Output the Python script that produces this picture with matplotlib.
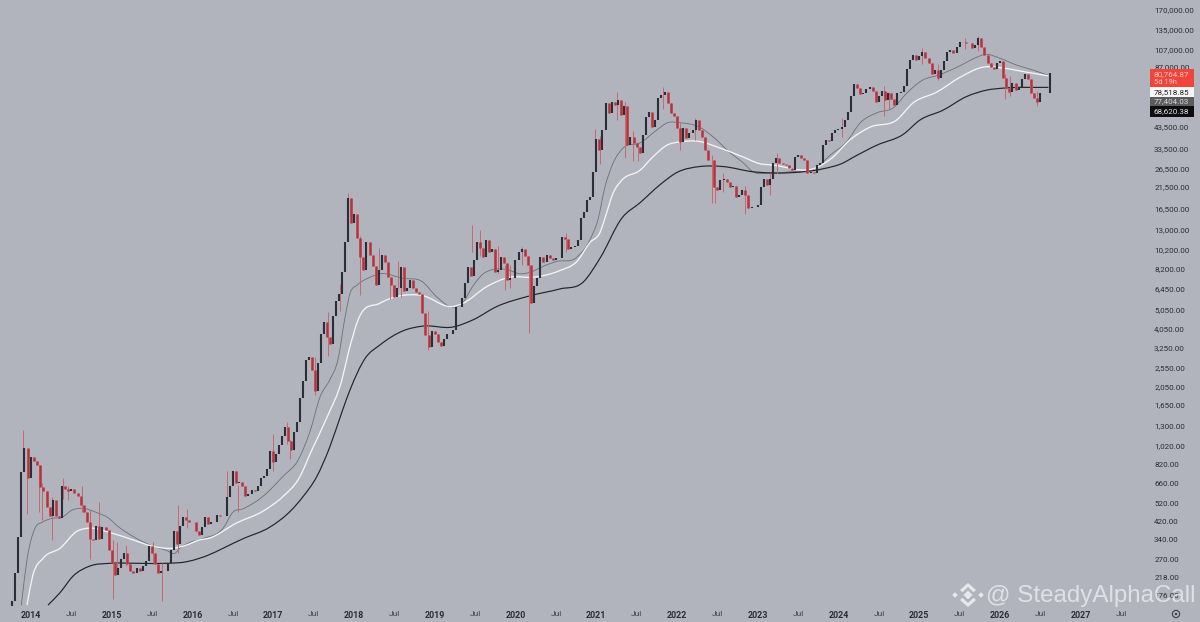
import matplotlib
matplotlib.use("Agg")
import matplotlib.pyplot as plt
import numpy as np
from matplotlib.patches import Polygon, Rectangle, Circle, PathPatch
from matplotlib.path import Path
from matplotlib.transforms import IdentityTransform

# ---------- data: bi-weekly closes ----------
closes_2013 = [165, 230, 350, 750, 1000, 700]
closes_2014 = [900, 860, 820, 630, 600, 500, 450, 540, 450, 440, 640, 620, 600, 620, 590, 570, 510, 470, 420, 345, 340, 400, 345, 395, 380, 300]
closes_2015 = [258, 225, 245, 270, 290, 255, 235, 230, 245, 235, 250, 265, 315, 290, 255, 230, 235, 235, 260, 300, 375, 325, 400, 445, 430, 420]
closes_2016 = [420, 375, 360, 395, 445, 410, 420, 420, 455, 450, 450, 560, 640, 760, 660, 670, 640, 570, 585, 610, 600, 640, 700, 720, 780, 960]
closes_2017 = [850, 930, 1030, 1150, 1280, 1080, 970, 1210, 1360, 1800, 2200, 2800, 2900, 2500, 1950, 2700, 3800, 4400, 3650, 3400, 4700, 5600, 6100, 7900, 11200, 18800, 14000]
closes_2018 = [15600, 11700, 9350, 8050, 11200, 9600, 8400, 6750, 8050, 9600, 8850, 7400, 6750, 5850, 6550, 8300, 6300, 6550, 7150, 6550, 6200, 6050, 4840, 3750, 3270, 3950]
closes_2019 = [3780, 3470, 3290, 3600, 3780, 3800, 3990, 5200, 5200, 5800, 6950, 8300, 7500, 9060, 11200, 10400, 9350, 11450, 10000, 10250, 7900, 8050, 9350, 8750, 7160, 7300, 7300]
closes_2020 = [9060, 10000, 10250, 9500, 8500, 5450, 6650, 7300, 9350, 8850, 9600, 9300, 9060, 9250, 9300, 11800, 11650, 10250, 10600, 10700, 11450, 14900, 15900, 18300, 19000, 25400]
closes_2021 = [37600, 33000, 41600, 57000, 50900, 57700, 55500, 59100, 49600, 55000, 34900, 38300, 35700, 34000, 31800, 39300, 48300, 51300, 43000, 46800, 60500, 62600, 65000, 57000, 50900, 49000]
closes_2022 = [42600, 36200, 42600, 37900, 40000, 41600, 46800, 41600, 38300, 32900, 29300, 29300, 21200, 20700, 23150, 23500, 22500, 21200, 21500, 19000, 19500, 20500, 19500, 16700, 16900, 16900]
closes_2023 = [17300, 21200, 23500, 21800, 23500, 28300, 30000, 28300, 28000, 27600, 26500, 25900, 30300, 31000, 30000, 29300, 25100, 25300, 25100, 27600, 28300, 34900, 37000, 36500, 40300, 41500]
closes_2024 = [42000, 43000, 47000, 51300, 62000, 71000, 68000, 63500, 64000, 67000, 69000, 66000, 58000, 62000, 66000, 59000, 64400, 60000, 56000, 64000, 65200, 70000, 85000, 94600, 100000, 94600]
closes_2025 = [99000, 103800, 96500, 91000, 80000, 84000, 77000, 84000, 94000, 103800, 106000, 102700, 110000, 116800, 116800, 116000, 115000, 109000, 113000, 122000, 110000, 100000, 91000, 87000, 85000, 91000]
closes_2026 = [93000, 77000, 68000, 65000, 72500, 66500, 68000, 76000, 80500, 76000, 64400, 60500, 57700, 64400, 64400, 64000, 80764.87]

# notable wicks
wick_years = [2013.90, 2013.95, 2014.10, 2014.14, 2014.26, 2014.40, 2014.46, 2014.63, 2014.73, 2014.84, 2015.02, 2015.07, 2015.18, 2015.51, 2015.62, 2015.82, 2015.93,
              2016.43, 2016.56, 2017.00, 2017.17, 2017.21, 2017.52, 2017.68, 2017.83, 2017.93, 2018.07, 2018.31, 2018.45, 2018.55, 2018.58, 2018.92,
              2019.46, 2019.56, 2019.78, 2019.87, 2019.93, 2020.08, 2020.17, 2020.62, 2020.98, 2021.05, 2021.26, 2021.36, 2021.46, 2021.52, 2021.83,
              2022.04, 2022.22, 2022.43, 2022.47, 2022.57, 2022.84, 2023.15, 2023.24, 2024.04, 2024.56, 2024.63, 2025.04, 2025.23, 2025.57, 2025.73, 2026.06, 2026.12, 2026.46]
wick_highs = [1230, 850, 820, 660, 560, 700, 640, 640, 480, 530, 340, 330, 320, 330, 260, 510, 490,
              760, 650, 1170, 1350, 1100, 2900, 4900, 6800, 19900, 12000, 10400, 7200, 8900, 7000, 5000,
              13700, 12900, 10700, 8500, 8500, 10500, 9500, 12400, 42000, 39000, 64800, 58000, 41000, 36000, 69000,
              45000, 48000, 31000, 24000, 25000, 21500, 25200, 31800, 48000, 70000, 65000, 109000, 90000, 123000, 126000, 80000, 78000, 66000]
wick_lows = [800, 460, 470, 430, 340, 550, 540, 470, 270, 380, 170, 230, 250, 260, 165, 290, 390,
             550, 470, 760, 1050, 880, 1850, 2950, 5000, 14000, 6000, 8000, 5750, 6500, 5900, 3150,
             10000, 9500, 7800, 6400, 6500, 8500, 3850, 10000, 30000, 28000, 47000, 30000, 29000, 29000, 53000,
             33000, 37000, 17600, 17600, 20000, 15500, 19500, 25000, 38500, 49000, 53000, 90000, 74500, 108000, 105000, 60000, 62000, 55000]

# moving averages
black_years = [2014.21, 2014.36, 2014.52, 2014.73, 2014.98, 2015.35, 2015.68, 2015.93, 2016.09, 2016.63, 2016.96, 2017.21, 2017.37, 2017.54, 2017.70, 2017.85, 2017.95, 2018.14, 2018.32, 2018.61, 2018.85, 2019.23, 2019.47, 2019.77, 2020.18, 2020.55, 2020.84, 2021.05, 2021.32, 2021.54, 2021.79, 2022.00, 2022.28, 2022.57, 2022.94, 2023.40, 2023.81, 2024.06, 2024.17, 2024.48, 2024.80, 2025.01, 2025.29, 2025.59, 2025.84, 2026.04, 2026.60]
black_vals = [158, 183, 222, 250, 258, 258, 258, 263, 274, 345, 395, 475, 565, 715, 1010, 1520, 1970, 2865, 3340, 3950, 4170, 4130, 4480, 5250, 5950, 6450, 7000, 9300, 14850, 17700, 21900, 25300, 27100, 27100, 25500, 25200, 26400, 28300, 30000, 34900, 39500, 46800, 52400, 61700, 66500, 68000, 68620.38]
white_years = [2013.95, 2014.02, 2014.15, 2014.36, 2014.57, 2014.73, 2014.98, 2015.26, 2015.51, 2015.76, 2015.93, 2016.09, 2016.19, 2016.55, 2016.87, 2017.12, 2017.31, 2017.49, 2017.67, 2017.85, 2017.93, 2018.05, 2018.32, 2018.82, 2019.23, 2019.35, 2019.65, 2019.93, 2020.22, 2020.55, 2020.76, 2020.92, 2021.05, 2021.11, 2021.21, 2021.32, 2021.54, 2021.70, 2021.88, 2022.04, 2022.25, 2022.54, 2022.82, 2023.03, 2023.18, 2023.73, 2023.92, 2024.14, 2024.39, 2024.72, 2024.92, 2025.22, 2025.50, 2025.79, 2026.04, 2026.33, 2026.60]
white_vals = [158, 222, 274, 308, 376, 390, 370, 340, 315, 308, 320, 340, 345, 415, 475, 565, 690, 1000, 1445, 2220, 3050, 4480, 5450, 6000, 5250, 5450, 6650, 7400, 7400, 8000, 8900, 11100, 12600, 14900, 19900, 23150, 25900, 30300, 34900, 36200, 36500, 33600, 30300, 28000, 27600, 26800, 30000, 37000, 43000, 46800, 57000, 65000, 77000, 87000, 86000, 82000, 78518.85]
gray_years = [2013.88, 2013.95, 2014.05, 2014.14, 2014.27, 2014.38, 2014.51, 2014.63, 2014.83, 2014.95, 2015.07, 2015.31, 2015.47, 2015.68, 2015.78, 2015.85, 2015.97, 2016.13, 2016.38, 2016.50, 2016.63, 2016.87, 2017.12, 2017.31, 2017.46, 2017.58, 2017.70, 2017.80, 2017.89, 2017.95, 2018.04, 2018.20, 2018.32, 2018.61, 2018.84, 2019.03, 2019.23, 2019.34, 2019.47, 2019.60, 2019.72, 2019.89, 2020.06, 2020.22, 2020.34, 2020.51, 2020.76, 2020.92, 2021.02, 2021.11, 2021.21, 2021.33, 2021.54, 2021.75, 2021.88, 2022.04, 2022.28, 2022.45, 2022.66, 2022.82, 2022.94, 2023.15, 2023.40, 2023.73, 2023.89, 2024.10, 2024.27, 2024.48, 2024.68, 2024.85, 2025.05, 2025.23, 2025.47, 2025.72, 2025.81, 2026.00, 2026.21, 2026.37, 2026.60]
gray_vals = [158, 269, 390, 418, 438, 442, 482, 492, 465, 442, 400, 345, 320, 300, 290, 310, 330, 345, 390, 470, 490, 565, 715, 870, 1230, 1820, 2220, 2800, 4650, 6100, 6750, 7400, 7700, 7300, 7050, 5850, 5200, 5450, 6650, 7700, 8100, 8100, 7700, 7950, 8400, 8900, 9350, 11450, 14500, 21500, 28300, 33600, 35700, 41600, 45300, 45300, 43000, 38300, 31800, 28300, 25500, 25100, 25500, 26800, 30800, 36200, 45300, 51000, 54000, 64400, 75000, 79000, 87000, 98000, 101000, 96500, 89000, 85000, 79000]

price_ticks = [170000, 135000, 107000, 87000, 43500, 33500, 26500, 21500, 16500, 13000, 10200, 8200, 6450, 5050, 4050, 3250, 2550, 2050, 1650, 1300, 1020, 820, 660, 520, 420, 340, 270, 218, 176]
year_ticks = list(range(2014, 2028))
half_ticks = [y + 0.5 for y in year_ticks]

tag_texts = ["78,518.85", "77,404.03", "68,620.38"]

# ---------- style ----------
BG = "#b2b4bd"
UP = "#2a2e39"
DOWN = "#c5474f"
CORE = "#8a3039"
plt.rcParams["font.family"] = ["Roboto", "DejaVu Sans"]

W, H = 1200, 622
fig = plt.figure(figsize=(W / 100, H / 100), dpi=100, facecolor=BG)
ax = fig.add_axes([0, 16 / H, 1148 / W, 606 / H], facecolor=BG)
ax.set_yscale("log")
ax.set_xlim(2013.616, 2027.833)
ax.set_ylim(156.4, 191200)
for s in ax.spines.values():
    s.set_visible(False)

# ---------- candles ----------
by_year = {2013: closes_2013, 2014: closes_2014, 2015: closes_2015, 2016: closes_2016, 2017: closes_2017,
           2018: closes_2018, 2019: closes_2019, 2020: closes_2020, 2021: closes_2021, 2022: closes_2022,
           2023: closes_2023, 2024: closes_2024, 2025: closes_2025, 2026: closes_2026}
xs, cl = [], []
for y, vals in by_year.items():
    n = 26 if y in (2013, 2026) else len(vals)
    base = y + (0.765 if y == 2013 else 0)
    xs += [base + i / n for i in range(len(vals))]
    cl += vals
xs = np.array(xs)
cl = np.array(cl, dtype=float)
op = np.r_[150.0, cl[:-1]]
up = cl >= op


def smooth_line(years, vals, color, lw):
    """Hermite curve through the read values, drawn in the log-price space of the axis."""
    x = np.asarray(years, float)
    y = np.log10(np.asarray(vals, float))
    m = np.gradient(y, x)
    verts = [(x[0], 10 ** y[0])]
    codes = [Path.MOVETO]
    for i in range(len(x) - 1):
        dx = (x[i + 1] - x[i]) / 3
        verts += [(x[i] + dx, 10 ** (y[i] + m[i] * dx)),
                  (x[i + 1] - dx, 10 ** (y[i + 1] - m[i + 1] * dx)),
                  (x[i + 1], 10 ** y[i + 1])]
        codes += [Path.CURVE4] * 3
    ax.add_patch(PathPatch(Path(verts, codes), facecolor="none", edgecolor=color, lw=lw, zorder=2))


smooth_line(gray_years, gray_vals, "#6d6f76", 0.6)
smooth_line(white_years, white_vals, "#f4f4f4", 0.95)
smooth_line(black_years, black_vals, "#22242a", 0.85)

wick_col = ["#c9666d"] * len(wick_years)
ax.vlines(wick_years, wick_lows, wick_highs, colors=wick_col, lw=0.7, zorder=3)
ax.vlines(xs[~up], cl[~up], op[~up], colors=DOWN, lw=2.1, zorder=4)
ax.vlines(xs[~up], cl[~up], op[~up], colors=CORE, lw=0.4, zorder=5)
ax.vlines(xs[up], op[up], cl[up], colors=UP, lw=1.5, zorder=5)

# ---------- axes ----------
ax.yaxis.tick_right()
ax.set_yticks(price_ticks)
ax.set_yticklabels([f"{v:,.2f}" for v in price_ticks])
ax.minorticks_off()
ax.tick_params(axis="y", length=0, pad=4.4, labelsize=5.8, labelcolor="#2b2d35")
ax.set_xticks(year_ticks)
ax.set_xticklabels([str(y) for y in year_ticks], fontweight="bold")
ax.set_xticks(half_ticks, minor=True)
ax.set_xticklabels(["Jul"] * len(half_ticks), minor=True)
ax.tick_params(axis="x", which="both", length=0, pad=3.4, labelsize=6.4, labelcolor="#2b2d35")
ax.tick_params(axis="x", which="minor", length=0, pad=3.4, labelsize=6.0, labelcolor="#3d3f47")

# ---------- price tags (pixel positions) ----------
pix = IdentityTransform()
def box(x0, top, x1, bottom, color):
    fig.add_artist(Rectangle((x0, H - bottom), x1 - x0, bottom - top, transform=pix, facecolor=color, edgecolor="none", zorder=6))
def label(x, y, s, color, size=5.8):
    fig.text(x / W, 1 - y / H, s, color=color, fontsize=size, ha="left", va="center", zorder=7)

box(1150, 69, 1194, 87, "#f1453b")
box(1150, 87, 1194, 97, "#f6f6f6")
box(1150, 97, 1194, 106, "#5c5c5c")
box(1150, 106, 1194, 117, "#0d0d0f")
label(1154, 74, "80,764.87", "#f8c7c1")
label(1154, 82.5, "5d 19h", "#f8c7c1", 5.4)
label(1154, 92, tag_texts[0], "#222222")
label(1154, 101.5, tag_texts[1], "#d5d5d5")
label(1154, 111.5, tag_texts[2], "#e6e6e6")

# ---------- watermark ----------
WM = "#f2f2f4"
fig.text(986 / W, 1 - 596 / H, "@ SteadyAlphaCall", color=WM, alpha=0.72, fontsize=17.4,
         family="Liberation Sans", ha="left", va="center", zorder=8)
def dia(cx, cy, r):
    fig.add_artist(Polygon([(cx - r, H - cy), (cx, H - cy + r), (cx + r, H - cy), (cx, H - cy - r)],
                           transform=pix, facecolor=WM, edgecolor="none", alpha=0.85, zorder=8))
dia(968, 595, 4.5); dia(955, 595, 2.8); dia(981, 595, 2.8)
for sgn in (1, -1):
    pts = [(960, 595 - sgn * 5), (968, 595 - sgn * 12), (976, 595 - sgn * 5), (973.5, 595 - sgn * 2.8), (968, 595 - sgn * 8), (962.5, 595 - sgn * 2.8)]
    fig.add_artist(Polygon([(a, H - b) for a, b in pts], transform=pix, facecolor=WM, edgecolor="none", alpha=0.85, zorder=8))

# settings icon
fig.add_artist(Circle((1176, H - 614), 3.6, transform=pix, facecolor="none", edgecolor="#3d3f47", lw=0.8, zorder=8))
fig.add_artist(Circle((1176, H - 614), 1.2, transform=pix, facecolor="#3d3f47", edgecolor="none", zorder=8))

fig.savefig("out.png", dpi=100, facecolor=BG)
